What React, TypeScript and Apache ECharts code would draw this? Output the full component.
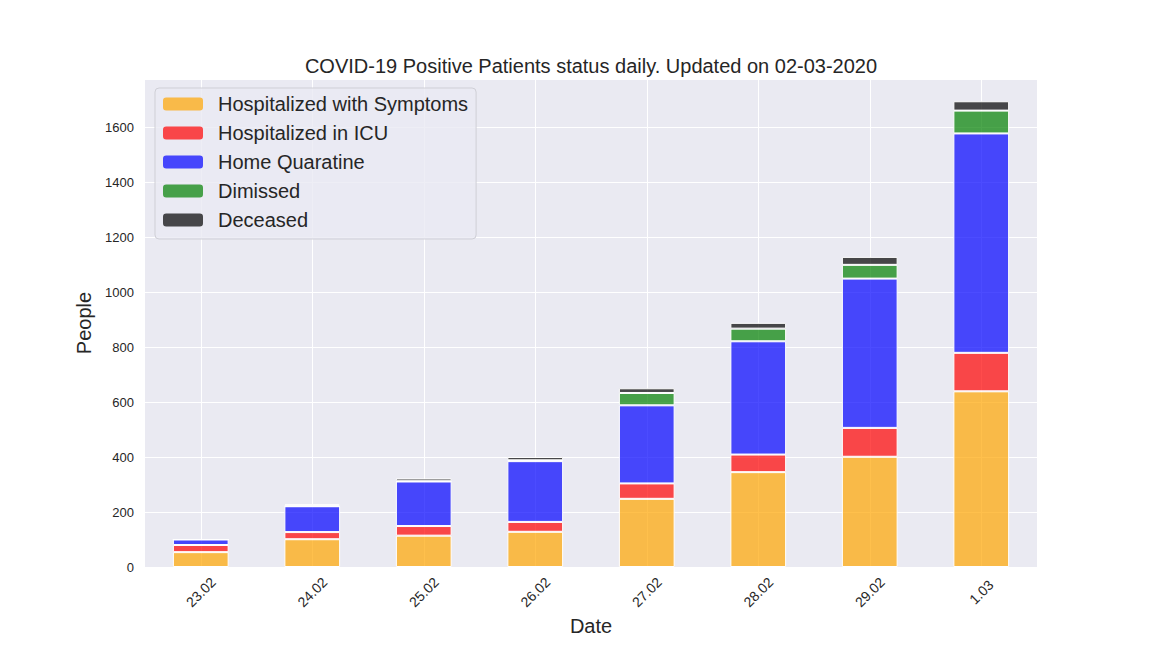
import React, { useEffect, useRef } from "react";
import * as echarts from "echarts";

const categories = ["23.02", "24.02", "25.02", "26.02", "27.02", "28.02", "29.02", "1.03"];
const hospitalizedSymptoms = [54, 101, 114, 128, 248, 345, 401, 639];
const hospitalizedICU = [26, 26, 35, 36, 56, 64, 105, 140];
const homeQuarantine = [20, 94, 162, 221, 284, 412, 543, 798];
const dismissed = [0, 1, 1, 3, 45, 46, 50, 83];
const deceased = [0, 7, 10, 12, 17, 21, 29, 34];
const seriesNames = ["Hospitalized with Symptoms", "Hospitalized in ICU", "Home Quaratine", "Dimissed", "Deceased"];
const seriesColors = [
  "rgba(255,165,0,0.7)",
  "rgba(255,0,0,0.7)",
  "rgba(0,0,255,0.7)",
  "rgba(0,128,0,0.7)",
  "rgba(0,0,0,0.7)",
];

const FONT = "'Liberation Sans', Arial, sans-serif";
const TXT = "#262626";

export default function App() {
  const ref = useRef<HTMLDivElement>(null);
  useEffect(() => {
    if (!ref.current) return;
    const chart = echarts.init(ref.current, undefined, { renderer: "svg" });
    const values = [hospitalizedSymptoms, hospitalizedICU, homeQuarantine, dismissed, deceased];
    const bars = values.map((d, i) => ({
      name: seriesNames[i],
      type: "bar",
      stack: "total",
      data: d,
      barWidth: "50%",
      z: 3,
      itemStyle: { color: seriesColors[i], borderColor: "#ffffff", borderWidth: 1 },
    }));
    chart.setOption({
      animation: false,
      textStyle: { fontFamily: FONT },
      title: {
        text: "COVID-19 Positive Patients status daily. Updated on 02-03-2020",
        left: 586,
        top: 51,
        textAlign: "center",
        textStyle: { fontSize: 20, fontWeight: "normal", color: TXT, fontFamily: FONT },
      },
      legend: {
        data: seriesNames,
        orient: "vertical",
        left: 155,
        top: 88,
        padding: [5, 4, 8, 8],
        itemWidth: 40,
        itemHeight: 13,
        itemGap: 7,
        z: 10,
        backgroundColor: "rgba(234,234,242,0.8)",
        borderColor: "#cfcfd6",
        borderWidth: 1,
        borderRadius: 4,
        textStyle: { fontSize: 20, lineHeight: 22, color: TXT, fontFamily: FONT, padding: [0, 4, 0, 10] },
        itemStyle: { borderWidth: 0 },
        selectedMode: false,
      },
      grid: {
        left: 145,
        right: 115,
        top: 79,
        bottom: 81,
        show: true,
        backgroundColor: "#eaeaf2",
        borderWidth: 0,
      },
      xAxis: {
        type: "category",
        data: categories,
        name: "Date",
        nameLocation: "middle",
        nameGap: 43,
        nameTextStyle: { fontSize: 20, color: TXT, fontFamily: FONT },
        axisLine: { show: false },
        axisTick: { show: false },
        splitLine: { show: false },
        axisLabel: {
          rotate: 45,
          align: "center",
          verticalAlign: "middle",
          margin: 25,
          fontSize: 14,
          color: TXT,
          fontFamily: FONT,
          interval: 0,
        },
      },
      yAxis: {
        type: "value",
        min: 0,
        max: 1775,
        interval: 200,
        name: "People",
        nameLocation: "middle",
        nameGap: 47,
        nameTextStyle: { fontSize: 20, color: TXT, fontFamily: FONT },
        axisLine: { show: false },
        axisTick: { show: false },
        axisLabel: {
          fontSize: 13,
          color: TXT,
          fontFamily: FONT,
          margin: 11,
          showMaxLabel: false,
          formatter: (v: number) => (v % 200 === 0 ? String(v) : ""),
        },
        splitLine: { lineStyle: { color: "#ffffff", width: 1 } },
      },
      series: [
        {
          name: "grid-x",
          type: "line",
          data: categories.map(() => null),
          showSymbol: false,
          silent: true,
          z: 1,
          lineStyle: { width: 0 },
          markLine: {
            silent: true,
            z: 1,
            symbol: "none",
            label: { show: false },
            lineStyle: { color: "#ffffff", width: 1, type: "solid" },
            data: categories.map((c) => ({ xAxis: c })),
          },
        },
        ...bars,
      ],
    });
    return () => chart.dispose();
  }, []);
  return (
    <div
      ref={ref}
      style={{ position: "absolute", left: 0, top: 0, width: 1152, height: 648, background: "#ffffff" }}
    />
  );
}
